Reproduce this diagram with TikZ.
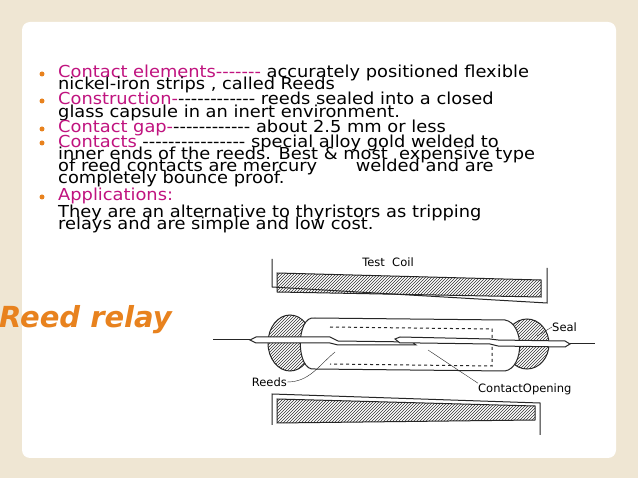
\documentclass[tikz,border=0pt]{standalone}
\usepackage{fontspec}
\setmainfont[FakeStretch=1.08]{DejaVu Sans}
\newfontfamily\plainfont{DejaVu Sans}
\usetikzlibrary{patterns}
\definecolor{bg}{HTML}{EFE6D3}
\definecolor{mag}{HTML}{C0137F}
\definecolor{org}{HTML}{E8821E}
\newcommand\dsh[1]{\foreach\i in{1,...,#1}{-}}
\tikzset{
 ln/.style={line width=1pt,black!85},
 hatch/.style={ln,pattern=north east lines,pattern color=black!80},
 lbl/.style={font=\plainfont\fontsize{11.5}{12}\selectfont,inner sep=0pt},
 bl/.style={anchor=base west,inner sep=0pt,font=\fontsize{16.5}{12}\selectfont,align=left},
 bul/.style={circle,fill=org,inner sep=0pt,minimum size=5pt}
}
\begin{document}
\begin{tikzpicture}[x=1pt,y=-1pt]
\fill[bg] (0,0) rectangle (638,478);
\useasboundingbox (0,0) rectangle (638,478);
\fill[white,rounded corners=8pt] (22,22) rectangle (616,458);
\fill[white] (200,238) rectangle (605,452);
% bullets
\foreach \y/\n in {74/b1,101/b2,129/b3,143/b4,197/b5} \node[bul] (\n) at (42,\y) {};
\node[bl] (t1) at (58,78) {\textcolor{mag}{Contact elements\dsh{7}} accurately positioned flexible};
\node[bl] (t2) at (58,90) {nickel-iron strips , called Reeds};
\node[bl] (t3) at (58,105) {\textcolor{mag}{Construction\dsh{1}}\dsh{12} reeds sealed into a closed};
\node[bl] (t4) at (58,118) {glass capsule in an inert environment.};
\node[bl] (t5) at (58,133) {\textcolor{mag}{Contact gap\dsh{1}}\dsh{12} about 2.5 mm or less};
\node[bl] (t6) at (58,148) {\textcolor{mag}{Contacts} \dsh{16} special alloy gold welded to};
\node[bl] (t7) at (58,160) {inner ends of the reeds. Best \& most \ expensive type};
\node[bl] (t8) at (58,172) {of reed contacts are mercury \qquad welded and are};
\node[bl] (t9) at (58,184) {completely bounce proof.};
\node[bl] (t10) at (58,201) {\textcolor{mag}{Applications:}};
\node[bl] (t11) at (58,218) {They are an alternative to thyristors as tripping};
\node[bl] (t12) at (58,230) {relays and are simple and low cost.};
\node[anchor=base west,inner sep=0pt,text=org,font=\plainfont\fontsize{29}{30}\selectfont\bfseries\itshape] (rr) at (-1,328) {Reed relay};
% top coil
\draw[ln] (272,259) -- (272,287) -- (547,303) -- (547,268);
\draw[hatch] (277,273) -- (541,280) -- (541,297) -- (277,292) -- cycle;
% bottom coil
\draw[ln] (272,425) -- (272,394) -- (540,403) -- (540,435);
\draw[hatch] (277,399) -- (535,406) -- (535,420) -- (277,423) -- cycle;
% seals
\draw[hatch] (290,343) ellipse (22 and 28);
\draw[hatch] (527,344) ellipse (22 and 25);
% glass tube
\draw[ln,fill=white] (315,318) -- (505,320) to[out=-10,in=10] (505,371) -- (315,369) to[out=190,in=170] (315,318);
\draw[ln,dashed] (330,327) -- (492,329) -- (492,366) -- (330,364);
% leads and reeds
\draw[ln] (213,340) -- (250,340);
\draw[ln] (570,344) -- (595,344);
\draw[ln,fill=white] (250,340) -- (256,337) -- (330,337) -- (338,341) -- (412,342) -- (416,345) -- (338,345) -- (330,343) -- (256,343) -- cycle;
\draw[ln,fill=white] (395,339) -- (400,337) -- (490,339) -- (498,340) -- (565,341) -- (570,344) -- (565,347) -- (498,346) -- (490,344) -- (420,343) -- (400,343) -- cycle;
% labels
\node[lbl] (tc) at (388,262) {Test \ Coil};
\node[lbl,anchor=west] (seal) at (552,327) {Seal};
\node[lbl,anchor=east] (reeds) at (287,382) {Reeds};
\node[lbl,anchor=west] (co) at (478,389) {ContactOpening};
\coordinate (rp) at (335,352);
\coordinate (cp) at (428,350);
\coordinate (sp) at (537,336);
\draw[ln,thin] (reeds.east) to[out=0,in=220] (rp);
\draw[ln,thin] (co.north west) -- (cp);
\draw[ln,thin] (seal.west) -- (sp);
\end{tikzpicture}
\end{document}
